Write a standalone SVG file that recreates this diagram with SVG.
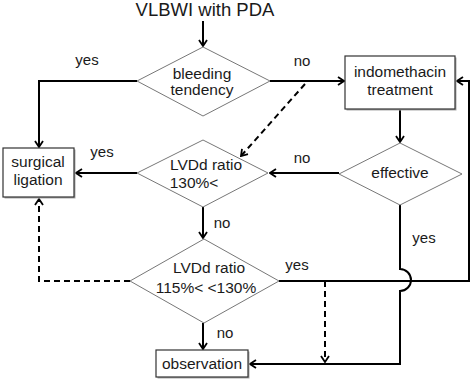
<svg xmlns="http://www.w3.org/2000/svg" width="474" height="381" viewBox="0 0 474 381">
<style>
text{font-family:"Liberation Sans",Arial,sans-serif;fill:#1a1a1a;text-anchor:middle}
.t{font-size:15.5px}
.l{font-size:15px}
.title{font-size:18.5px}
.box{fill:#fff;stroke:#333;stroke-width:1.2}
.shadow{fill:#aaa}
.dia{fill:#fff;stroke:#777;stroke-width:1}
.c{fill:none;stroke:#000;stroke-width:2}
.d{stroke-dasharray:6,4}
</style>
<defs>
<marker id="ah" viewBox="0 0 8 10" refX="7" refY="5" markerWidth="8" markerHeight="10" markerUnits="userSpaceOnUse" orient="auto">
<path d="M1,1 L7,5 L1,9" fill="none" stroke="#000" stroke-width="1.8"/>
</marker>
</defs>
<rect width="474" height="381" fill="#fff"/>
<text class="title" x="205" y="16">VLBWI with PDA</text>
<g id="connectors">
<path class="c" d="M203,21 V46" marker-end="url(#ah)"/>
<path class="c" d="M137,81 H39 V147" marker-end="url(#ah)"/>
<path class="c" d="M270,81 H344" marker-end="url(#ah)"/>
<path class="c d" d="M305,84 L241,156" marker-end="url(#ah)"/>
<path class="c" d="M400,110 V142" marker-end="url(#ah)"/>
<path class="c" d="M339,173 H270" marker-end="url(#ah)"/>
<path class="c" d="M137,173 H76" marker-end="url(#ah)"/>
<path class="c" d="M203,207 V238" marker-end="url(#ah)"/>
<path class="c d" d="M130,281 H39 V199" marker-end="url(#ah)"/>
<path class="c" d="M279,281 H469 V81 H457" marker-end="url(#ah)"/>
<path class="c" d="M400,205 V269 A11,11 0 0 1 400,291 V364 H250" marker-end="url(#ah)"/>
<path class="c d" d="M325,281 V362" marker-end="url(#ah)"/>
<path class="c" d="M203,323 V349" marker-end="url(#ah)"/>
</g>
<g id="n-bleeding">
<polygon class="dia" points="203,47 270,81 203,116 137,81"/>
<text class="t" x="202" y="79">bleeding</text>
<text class="t" x="202" y="95">tendency</text>
</g>
<g id="n-surgical">
<rect class="shadow" x="4.5" y="149.5" width="71" height="49"/>
<rect class="box" x="3" y="148" width="71" height="49"/>
<text class="t" x="38" y="167">surgical</text>
<text class="t" x="38" y="185">ligation</text>
</g>
<g id="n-indomethacin">
<rect class="shadow" x="346.5" y="57.5" width="110" height="53"/>
<rect class="box" x="345" y="56" width="110" height="53"/>
<text class="t" x="400" y="77">indomethacin</text>
<text class="t" x="400" y="95">treatment</text>
</g>
<g id="n-effective">
<polygon class="dia" points="400,143 462,174 400,205 339,174"/>
<text class="t" x="400" y="178">effective</text>
</g>
<g id="n-lvdd130">
<polygon class="dia" points="203,140 268,173 203,207 137,173"/>
<text class="t" x="206" y="170">LVDd ratio</text>
<text class="t" x="194" y="188">130%&lt;</text>
</g>
<g id="n-lvdd115">
<polygon class="dia" points="204,239 279,281 204,323 130,281"/>
<text class="t" x="209" y="273">LVDd ratio</text>
<text class="t" x="206" y="293">115%&lt; &lt;130%</text>
</g>
<g id="n-observation">
<rect class="shadow" x="157.5" y="351.5" width="92" height="27"/>
<rect class="box" x="156" y="350" width="92" height="27"/>
<text class="t" x="202" y="369">observation</text>
</g>
<g id="labels">
<text class="l" x="87" y="65">yes</text>
<text class="l" x="302" y="66">no</text>
<text class="l" x="102" y="157">yes</text>
<text class="l" x="302" y="163">no</text>
<text class="l" x="222" y="228">no</text>
<text class="l" x="297" y="270">yes</text>
<text class="l" x="424" y="243">yes</text>
<text class="l" x="225" y="338">no</text>
</g>
</svg>
